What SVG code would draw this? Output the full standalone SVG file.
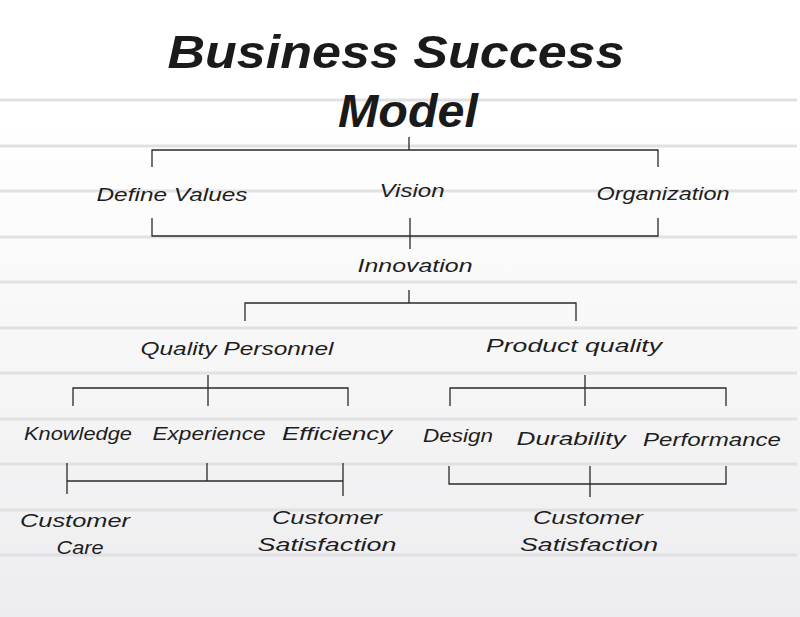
<svg xmlns="http://www.w3.org/2000/svg" width="800" height="617" viewBox="0 0 800 617">
<defs>
<linearGradient id="bg" x1="0" y1="0" x2="0" y2="1">
<stop offset="0" stop-color="#ffffff"/>
<stop offset="0.2" stop-color="#ffffff"/>
<stop offset="1" stop-color="#ededef"/>
</linearGradient>
<style>
.rule{stroke:#e1e1e3;stroke-width:3}
.c{stroke:#2a2a2a;stroke-width:1.3;fill:none}
.t{font-family:"Liberation Sans","DejaVu Sans",sans-serif;font-style:italic;font-size:18px;fill:#1e1e1e;text-anchor:middle}
.h{font-family:"Liberation Sans","DejaVu Sans",sans-serif;font-style:italic;font-weight:bold;font-size:46px;fill:#1a1a1a;text-anchor:middle}
</style>
</defs>
<rect width="800" height="617" fill="url(#bg)"/>
<g id="paper">
<line class="rule" x1="0" y1="100" x2="797" y2="100"/>
<line class="rule" x1="0" y1="146" x2="797" y2="146"/>
<line class="rule" x1="0" y1="191" x2="797" y2="191"/>
<line class="rule" x1="0" y1="237" x2="797" y2="237"/>
<line class="rule" x1="0" y1="282" x2="797" y2="282"/>
<line class="rule" x1="0" y1="328" x2="797" y2="328"/>
<line class="rule" x1="0" y1="373" x2="797" y2="373"/>
<line class="rule" x1="0" y1="419" x2="797" y2="419"/>
<line class="rule" x1="0" y1="464" x2="797" y2="464"/>
<line class="rule" x1="0" y1="510" x2="797" y2="510"/>
<line class="rule" x1="0" y1="555" x2="797" y2="555"/>
</g>
<g id="title">
<text class="h" x="396" y="68" textLength="457" lengthAdjust="spacingAndGlyphs">Business Success</text>
<text class="h" x="408" y="127" textLength="140" lengthAdjust="spacingAndGlyphs">Model</text>
</g>
<g id="connectors">
<path class="c" d="M152,167 V150 H658 V167 M409,137 V150"/>
<path class="c" d="M152,218 V236 H658 V218 M410,218 V249"/>
<path class="c" d="M245,321 V303 H576 V321 M409,290 V303"/>
<path class="c" d="M73,406 V388 H348 V406 M208,375 V406"/>
<path class="c" d="M450,406 V388 H726 V406 M585,375 V406"/>
<path class="c" d="M67,463 V494 M67,481 H343 M343,463 V496 M207,463 V481"/>
<path class="c" d="M449,466 V484 H726 V466 M590,466 V497"/>
</g>
<g id="define-values"><text class="t" x="172" y="201" textLength="151" lengthAdjust="spacingAndGlyphs">Define Values</text></g>
<g id="vision"><text class="t" x="412" y="197" textLength="65" lengthAdjust="spacingAndGlyphs">Vision</text></g>
<g id="organization"><text class="t" x="663" y="200" textLength="133" lengthAdjust="spacingAndGlyphs">Organization</text></g>
<g id="innovation"><text class="t" x="415" y="272" textLength="115" lengthAdjust="spacingAndGlyphs">Innovation</text></g>
<g id="quality-personnel"><text class="t" x="237" y="355" textLength="193" lengthAdjust="spacingAndGlyphs">Quality Personnel</text></g>
<g id="product-quality"><text class="t" x="574" y="352" textLength="176" lengthAdjust="spacingAndGlyphs">Product quality</text></g>
<g id="knowledge"><text class="t" x="78" y="440" textLength="108" lengthAdjust="spacingAndGlyphs">Knowledge</text></g>
<g id="experience"><text class="t" x="209" y="440" textLength="113" lengthAdjust="spacingAndGlyphs">Experience</text></g>
<g id="efficiency"><text class="t" x="337" y="440" textLength="110" lengthAdjust="spacingAndGlyphs">Efficiency</text></g>
<g id="design"><text class="t" x="458" y="442" textLength="70" lengthAdjust="spacingAndGlyphs">Design</text></g>
<g id="durability"><text class="t" x="571" y="445" textLength="109" lengthAdjust="spacingAndGlyphs">Durability</text></g>
<g id="performance"><text class="t" x="712" y="446" textLength="138" lengthAdjust="spacingAndGlyphs">Performance</text></g>
<g id="customer-care">
<text class="t" x="75" y="527" textLength="110" lengthAdjust="spacingAndGlyphs">Customer</text>
<text class="t" x="80" y="554" textLength="47" lengthAdjust="spacingAndGlyphs">Care</text>
</g>
<g id="customer-satisfaction-1">
<text class="t" x="327" y="524" textLength="110" lengthAdjust="spacingAndGlyphs">Customer</text>
<text class="t" x="327" y="551" textLength="139" lengthAdjust="spacingAndGlyphs">Satisfaction</text>
</g>
<g id="customer-satisfaction-2">
<text class="t" x="588" y="524" textLength="110" lengthAdjust="spacingAndGlyphs">Customer</text>
<text class="t" x="589" y="551" textLength="138" lengthAdjust="spacingAndGlyphs">Satisfaction</text>
</g>
</svg>
